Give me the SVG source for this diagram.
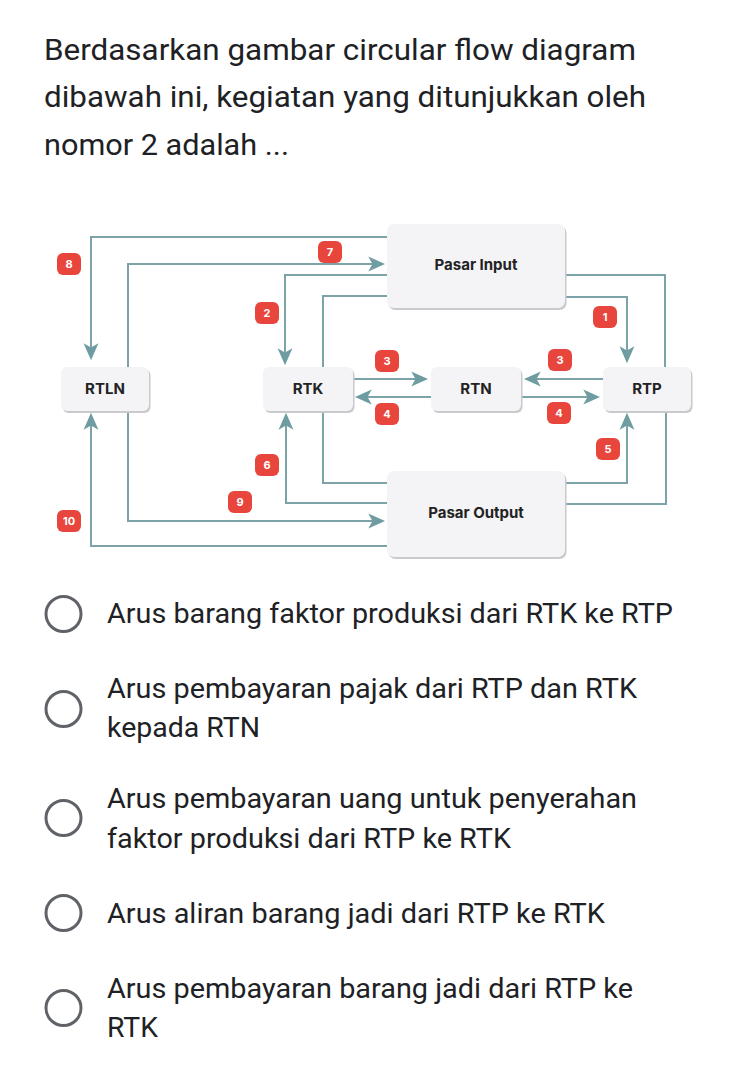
<svg xmlns="http://www.w3.org/2000/svg" width="748" height="1080" viewBox="0 0 748 1080">
<style>
  .q { font-family: Roboto, "Liberation Sans", sans-serif; font-size: 30px; fill: #202124; }
  .opt { font-family: Roboto, "Liberation Sans", sans-serif; font-size: 28px; fill: #202124; }
  .radio { fill: none; stroke: #5f6368; stroke-width: 3; }
  .box { fill: #f4f3f6; }
  .shadow { fill: #cacace; }
  .lbl { font-family: Inter, "Liberation Sans", sans-serif; font-size: 15px; font-weight: 700; fill: #222222; text-anchor: middle; }
  .conn { fill: none; stroke: #7ca3a8; stroke-width: 2; }
  .badge rect { fill: #e8463d; }
  .badge text { font-family: Inter, "Liberation Sans", sans-serif; font-size: 11px; font-weight: 700; fill: #ffffff; text-anchor: middle; }
</style>
<defs>
  <marker id="arr" viewBox="0 0 16 16" markerWidth="17" markerHeight="17" markerUnits="userSpaceOnUse" refX="12" refY="8" orient="auto">
    <path d="M0,1 L16,8 L0,15 L4,8 z" fill="#6f9ca1"/>
  </marker>
</defs>
<rect width="748" height="1080" fill="#ffffff"/>

<g id="question">
  <text class="q" x="44" y="60" textLength="592" lengthAdjust="spacingAndGlyphs">Berdasarkan gambar circular flow diagram</text>
  <text class="q" x="44" y="107" textLength="602" lengthAdjust="spacingAndGlyphs">dibawah ini, kegiatan yang ditunjukkan oleh</text>
  <text class="q" x="44" y="155" textLength="245" lengthAdjust="spacingAndGlyphs">nomor 2 adalah ...</text>
</g>

<g id="connectors">
  <path class="conn" d="M387,237 H91 V356" marker-end="url(#arr)"/>
  <path class="conn" d="M128,367 V264 H381" marker-end="url(#arr)"/>
  <path class="conn" d="M387,275 H285 V361" marker-end="url(#arr)"/>
  <path class="conn" d="M323,367 V296 H387"/>
  <path class="conn" d="M665,367 V275 H565"/>
  <path class="conn" d="M565,297 H627 V359" marker-end="url(#arr)"/>
  <path class="conn" d="M353,379 H424" marker-end="url(#arr)"/>
  <path class="conn" d="M431,397 H359" marker-end="url(#arr)"/>
  <path class="conn" d="M603,379 H528" marker-end="url(#arr)"/>
  <path class="conn" d="M521,397 H596" marker-end="url(#arr)"/>
  <path class="conn" d="M565,483 H627 V417" marker-end="url(#arr)"/>
  <path class="conn" d="M666,411 V504 H565"/>
  <path class="conn" d="M323,411 V483 H387"/>
  <path class="conn" d="M387,503 H286 V417" marker-end="url(#arr)"/>
  <path class="conn" d="M128,411 V521 H381" marker-end="url(#arr)"/>
  <path class="conn" d="M387,546 H91 V417" marker-end="url(#arr)"/>
</g>

<g id="pasar-input">
  <rect class="shadow" x="388.5" y="226" width="178" height="84" rx="7"/>
  <rect class="box" x="387" y="224" width="178" height="84" rx="7"/>
  <text class="lbl" x="476" y="270">Pasar Input</text>
</g>
<g id="pasar-output">
  <rect class="shadow" x="388.5" y="473" width="178" height="86" rx="7"/>
  <rect class="box" x="387" y="471" width="178" height="86" rx="7"/>
  <text class="lbl" x="476" y="518">Pasar Output</text>
</g>
<g id="rtln">
  <rect class="shadow" x="62.5" y="369" width="88" height="44" rx="6"/>
  <rect class="box" x="61" y="367" width="88" height="44" rx="6"/>
  <text class="lbl" x="105" y="394">RTLN</text>
</g>
<g id="rtk">
  <rect class="shadow" x="264.5" y="369" width="90" height="44" rx="6"/>
  <rect class="box" x="263" y="367" width="90" height="44" rx="6"/>
  <text class="lbl" x="308" y="394">RTK</text>
</g>
<g id="rtn">
  <rect class="shadow" x="432.5" y="369" width="90" height="44" rx="6"/>
  <rect class="box" x="431" y="367" width="90" height="44" rx="6"/>
  <text class="lbl" x="476" y="394">RTN</text>
</g>
<g id="rtp">
  <rect class="shadow" x="604.5" y="369" width="88" height="44" rx="6"/>
  <rect class="box" x="603" y="367" width="88" height="44" rx="6"/>
  <text class="lbl" x="647" y="394">RTP</text>
</g>

<g id="badges">
  <g class="badge" id="b8"><rect x="57" y="253" width="24" height="22" rx="6"/><text x="69" y="268">8</text></g>
  <g class="badge" id="b7"><rect x="318" y="241" width="24" height="22" rx="6"/><text x="330" y="256">7</text></g>
  <g class="badge" id="b2"><rect x="255" y="302" width="24" height="22" rx="6"/><text x="267" y="317">2</text></g>
  <g class="badge" id="b1"><rect x="593" y="306" width="24" height="22" rx="6"/><text x="605" y="321">1</text></g>
  <g class="badge" id="b3a"><rect x="375" y="350" width="24" height="22" rx="6"/><text x="387" y="365">3</text></g>
  <g class="badge" id="b3b"><rect x="548" y="349" width="24" height="22" rx="6"/><text x="560" y="364">3</text></g>
  <g class="badge" id="b4a"><rect x="375" y="403" width="24" height="22" rx="6"/><text x="387" y="418">4</text></g>
  <g class="badge" id="b4b"><rect x="547" y="402" width="24" height="22" rx="6"/><text x="559" y="417">4</text></g>
  <g class="badge" id="b5"><rect x="596" y="438" width="24" height="22" rx="6"/><text x="608" y="453">5</text></g>
  <g class="badge" id="b6"><rect x="255" y="454" width="24" height="22" rx="6"/><text x="267" y="469">6</text></g>
  <g class="badge" id="b9"><rect x="228" y="491" width="24" height="22" rx="6"/><text x="240" y="506">9</text></g>
  <g class="badge" id="b10"><rect x="57" y="510" width="24" height="22" rx="6"/><text x="69" y="525">10</text></g>
</g>

<g id="options">
  <circle class="radio" cx="63.5" cy="614" r="17.5"/>
  <text class="opt" x="107" y="623" textLength="566" lengthAdjust="spacingAndGlyphs">Arus barang faktor produksi dari RTK ke RTP</text>

  <circle class="radio" cx="63.5" cy="709" r="17.5"/>
  <text class="opt" x="107" y="698" textLength="530" lengthAdjust="spacingAndGlyphs">Arus pembayaran pajak dari RTP dan RTK</text>
  <text class="opt" x="107" y="737" textLength="153" lengthAdjust="spacingAndGlyphs">kepada RTN</text>

  <circle class="radio" cx="63.5" cy="818" r="17.5"/>
  <text class="opt" x="107" y="808" textLength="530" lengthAdjust="spacingAndGlyphs">Arus pembayaran uang untuk penyerahan</text>
  <text class="opt" x="107" y="848" textLength="404" lengthAdjust="spacingAndGlyphs">faktor produksi dari RTP ke RTK</text>

  <circle class="radio" cx="63.5" cy="913" r="17.5"/>
  <text class="opt" x="107" y="923" textLength="498" lengthAdjust="spacingAndGlyphs">Arus aliran barang jadi dari RTP ke RTK</text>

  <circle class="radio" cx="63.5" cy="1008" r="17.5"/>
  <text class="opt" x="107" y="998" textLength="526" lengthAdjust="spacingAndGlyphs">Arus pembayaran barang jadi dari RTP ke</text>
  <text class="opt" x="107" y="1037" textLength="51" lengthAdjust="spacingAndGlyphs">RTK</text>
</g>
</svg>
